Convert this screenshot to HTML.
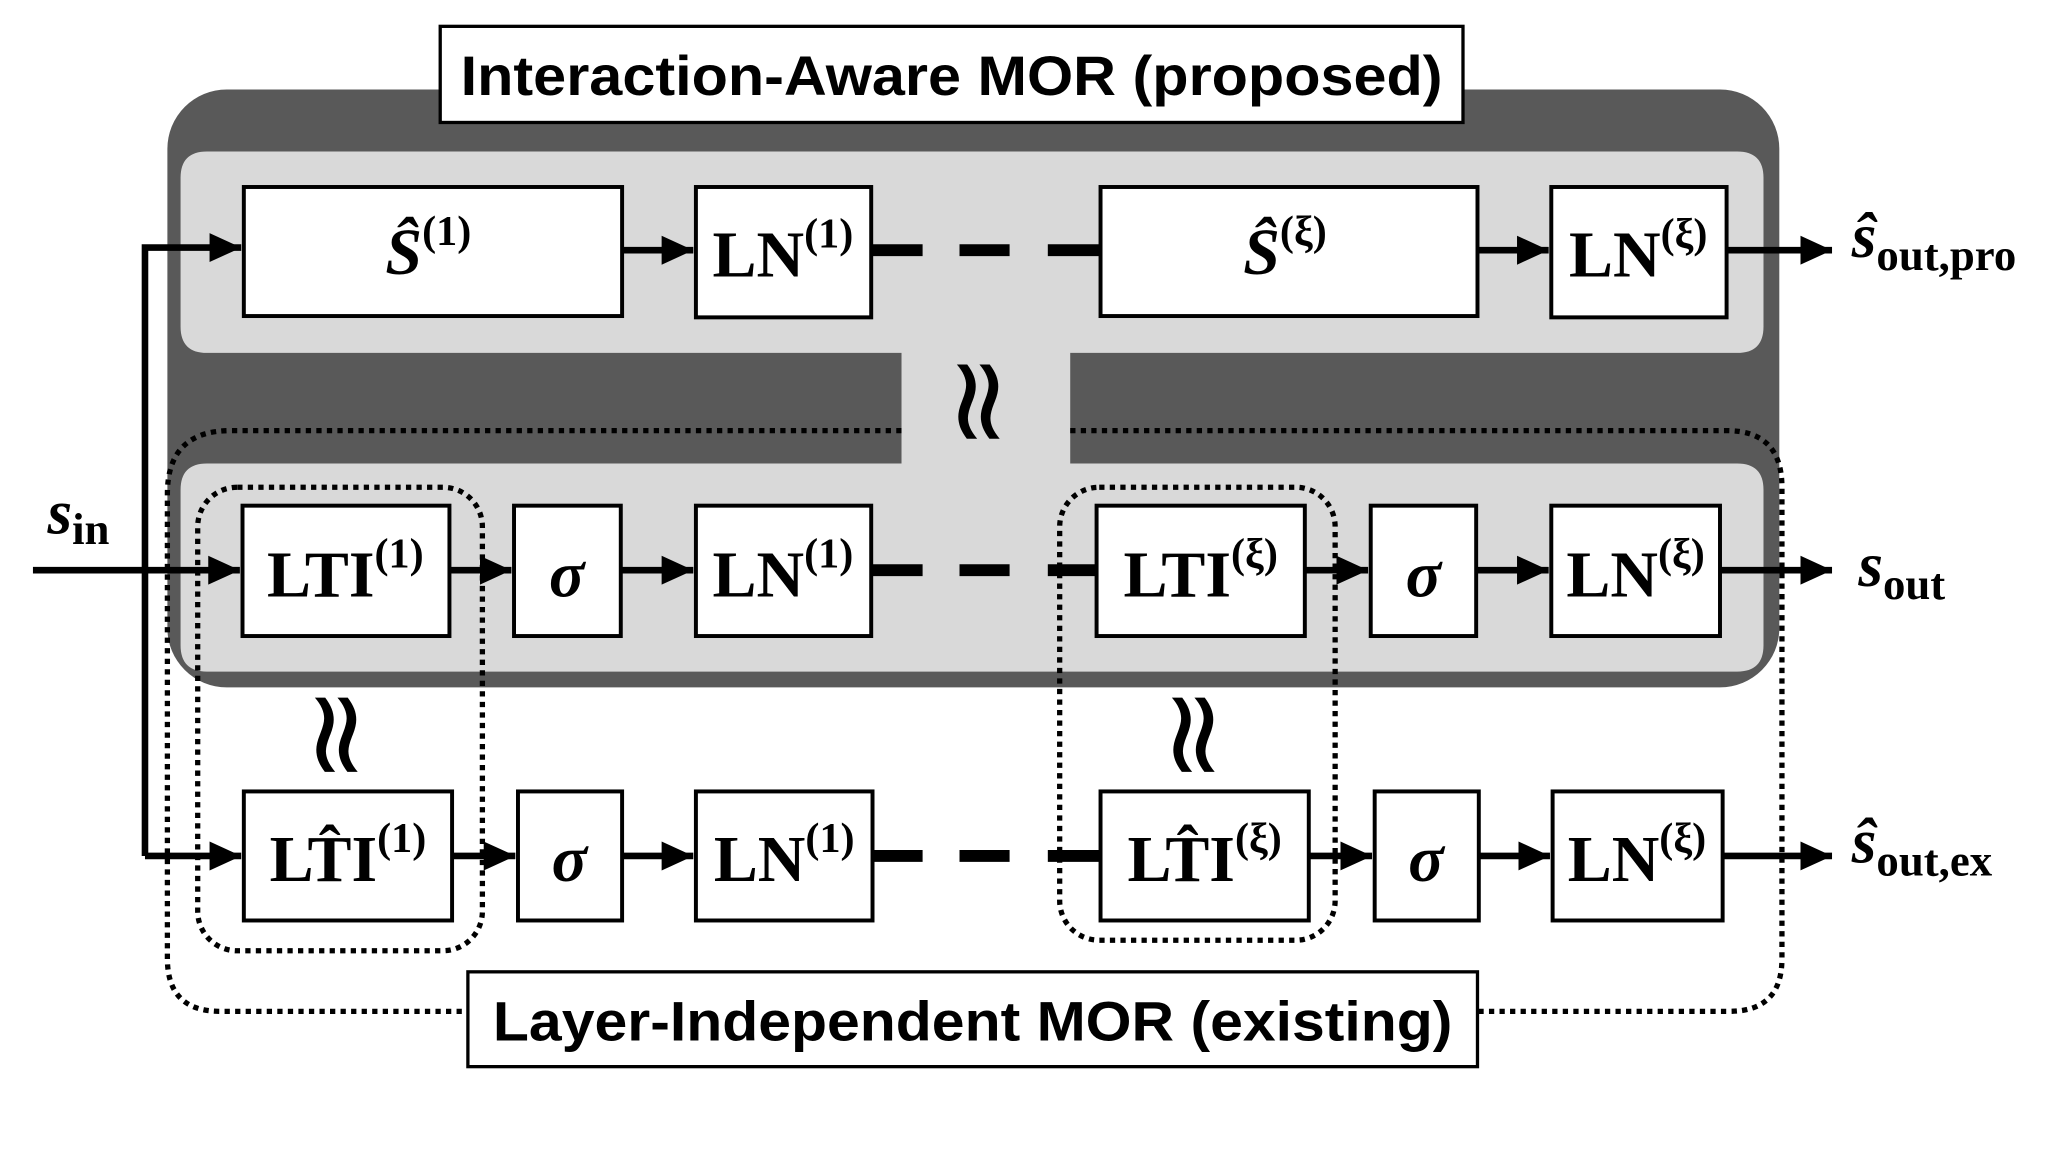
<!DOCTYPE html>
<html><head><meta charset="utf-8"><style>html,body{margin:0;padding:0;background:#fff}svg{display:block}</style></head>
<body>
<svg width="2064" height="1172" viewBox="0 0 1566 890" preserveAspectRatio="none" xmlns="http://www.w3.org/2000/svg">
<defs>
<marker id="a" markerUnits="userSpaceOnUse" markerWidth="26" markerHeight="26" refX="24" refY="13" orient="auto"><path d="M0,2 L24,13 L0,24 Z" fill="#000"/></marker>
</defs>
<rect x="127" y="68" width="1223" height="454" rx="45" fill="#595959"/>
<path d="M157,115 H1318 Q1338,115 1338,135 V248 Q1338,268 1318,268 H812 V352 H1318 Q1338,352 1338,372 V490 Q1338,510 1318,510 H157 Q137,510 137,490 V372 Q137,352 157,352 H684 V268 H157 Q137,268 137,248 V135 Q137,115 157,115 Z" fill="#d9d9d9"/>
<rect x="334" y="20" width="776" height="73" fill="#fff" stroke="#000" stroke-width="2.5"/>
<text x="722" y="72" text-anchor="middle" font-family="Liberation Sans, sans-serif" font-weight="bold" font-size="42" textLength="745" lengthAdjust="spacingAndGlyphs">Interaction-Aware MOR (proposed)</text>
<g fill="none" stroke="#000" stroke-width="4" stroke-dasharray="4 4">
<path d="M684,327 H175 Q127,327 127,375 V728 Q127,768 167,768 H355"/>
<path d="M812,327 H1310 Q1352,327 1352,370 V728 Q1352,768 1312,768 H1121"/>
<rect x="150" y="370" width="216" height="352" rx="30"/>
<rect x="804" y="370" width="209" height="344" rx="30"/>
</g>
<rect x="355" y="738" width="766" height="72" fill="#fff" stroke="#000" stroke-width="2.5"/>
<text x="738" y="790" text-anchor="middle" font-family="Liberation Sans, sans-serif" font-weight="bold" font-size="42" textLength="728" lengthAdjust="spacingAndGlyphs">Layer-Independent MOR (existing)</text>
<g stroke="#000" stroke-width="5" fill="none">
<path d="M25,433 H182" marker-end="url(#a)"/>
<path d="M110,650 V188 H183" marker-end="url(#a)"/>
<path d="M110,650 H183" marker-end="url(#a)"/>
<path d="M472,190 H526" marker-end="url(#a)"/>
<path d="M1121,190 H1175" marker-end="url(#a)"/>
<path d="M1310,190 H1390" marker-end="url(#a)"/>
<path d="M341,433 H388" marker-end="url(#a)"/>
<path d="M471,433 H526" marker-end="url(#a)"/>
<path d="M990,433 H1038" marker-end="url(#a)"/>
<path d="M1120,433 H1175" marker-end="url(#a)"/>
<path d="M1305,433 H1390" marker-end="url(#a)"/>
<path d="M343,650 H391" marker-end="url(#a)"/>
<path d="M472,650 H526" marker-end="url(#a)"/>
<path d="M993,650 H1041" marker-end="url(#a)"/>
<path d="M1122,650 H1176" marker-end="url(#a)"/>
<path d="M1307,650 H1390" marker-end="url(#a)"/>
</g>
<g stroke="#000" stroke-width="9">
<path d="M661,190 H700 M728,190 H766 M795,190 H835"/>
<path d="M661,433 H700 M728,433 H766 M795,433 H832"/>
<path d="M662,650 H700 M728,650 H766 M795,650 H835"/>
</g>
<g fill="#fff" stroke="#000" stroke-width="3">
<rect x="185" y="142" width="287" height="98"/>
<rect x="528" y="142" width="133" height="99"/>
<rect x="835" y="142" width="286" height="98"/>
<rect x="1177" y="142" width="133" height="99"/>
<rect x="184" y="384" width="157" height="99"/>
<rect x="390" y="384" width="81" height="99"/>
<rect x="528" y="384" width="133" height="99"/>
<rect x="832" y="384" width="158" height="99"/>
<rect x="1040" y="384" width="80" height="99"/>
<rect x="1177" y="384" width="128" height="99"/>
<rect x="185" y="601" width="158" height="98"/>
<rect x="393" y="601" width="79" height="98"/>
<rect x="528" y="601" width="134" height="98"/>
<rect x="835" y="601" width="158" height="98"/>
<rect x="1043" y="601" width="79" height="98"/>
<rect x="1178" y="601" width="129" height="98"/>
</g>
<g font-family="Liberation Serif, serif" font-weight="bold" font-size="50" text-anchor="middle">
<text x="325" y="208"><tspan font-style="italic">Ŝ</tspan><tspan font-size="32" dy="-22">(1)</tspan></text>
<text x="594" y="210">LN<tspan font-size="32" dy="-22">(1)</tspan></text>
<text x="975" y="208"><tspan font-style="italic">Ŝ</tspan><tspan font-size="32" dy="-22">(ξ)</tspan></text>
<text x="1243" y="210">LN<tspan font-size="32" dy="-22">(ξ)</tspan></text>
<text x="262" y="453">LTI<tspan font-size="32" dy="-22">(1)</tspan></text>
<text x="430" y="453" font-style="italic">σ</text>
<text x="594" y="453">LN<tspan font-size="32" dy="-22">(1)</tspan></text>
<text x="911" y="453">LTI<tspan font-size="32" dy="-22">(ξ)</tspan></text>
<text x="1080" y="453" font-style="italic">σ</text>
<text x="1241" y="453">LN<tspan font-size="32" dy="-22">(ξ)</tspan></text>
<text x="264" y="669">LT̂I<tspan font-size="32" dy="-22">(1)</tspan></text>
<text x="432" y="669" font-style="italic">σ</text>
<text x="595" y="669">LN<tspan font-size="32" dy="-22">(1)</tspan></text>
<text x="914" y="669">LT̂I<tspan font-size="32" dy="-22">(ξ)</tspan></text>
<text x="1082" y="669" font-style="italic">σ</text>
<text x="1242" y="669">LN<tspan font-size="32" dy="-22">(ξ)</tspan></text>
</g>
<g font-family="Liberation Serif, serif" font-weight="bold" font-size="48">
<text x="36" y="405"><tspan font-style="italic">s</tspan><tspan font-size="34" dy="8">in</tspan></text>
<text x="1405" y="195"><tspan font-style="italic">ŝ</tspan><tspan font-size="34" dy="10">out,pro</tspan></text>
<text x="1410" y="445"><tspan font-style="italic">s</tspan><tspan font-size="34" dy="10">out</tspan></text>
<text x="1405" y="655"><tspan font-style="italic">ŝ</tspan><tspan font-size="34" dy="10">out,ex</tspan></text>
</g>
<g font-family="DejaVu Sans, sans-serif" font-size="90" text-anchor="middle">
<text x="745" y="336" transform="rotate(90 745 305)">≈</text>
<text x="258" y="589" transform="rotate(90 258 558)">≈</text>
<text x="908" y="589" transform="rotate(90 908 558)">≈</text>
</g>
</svg>
</body></html>
